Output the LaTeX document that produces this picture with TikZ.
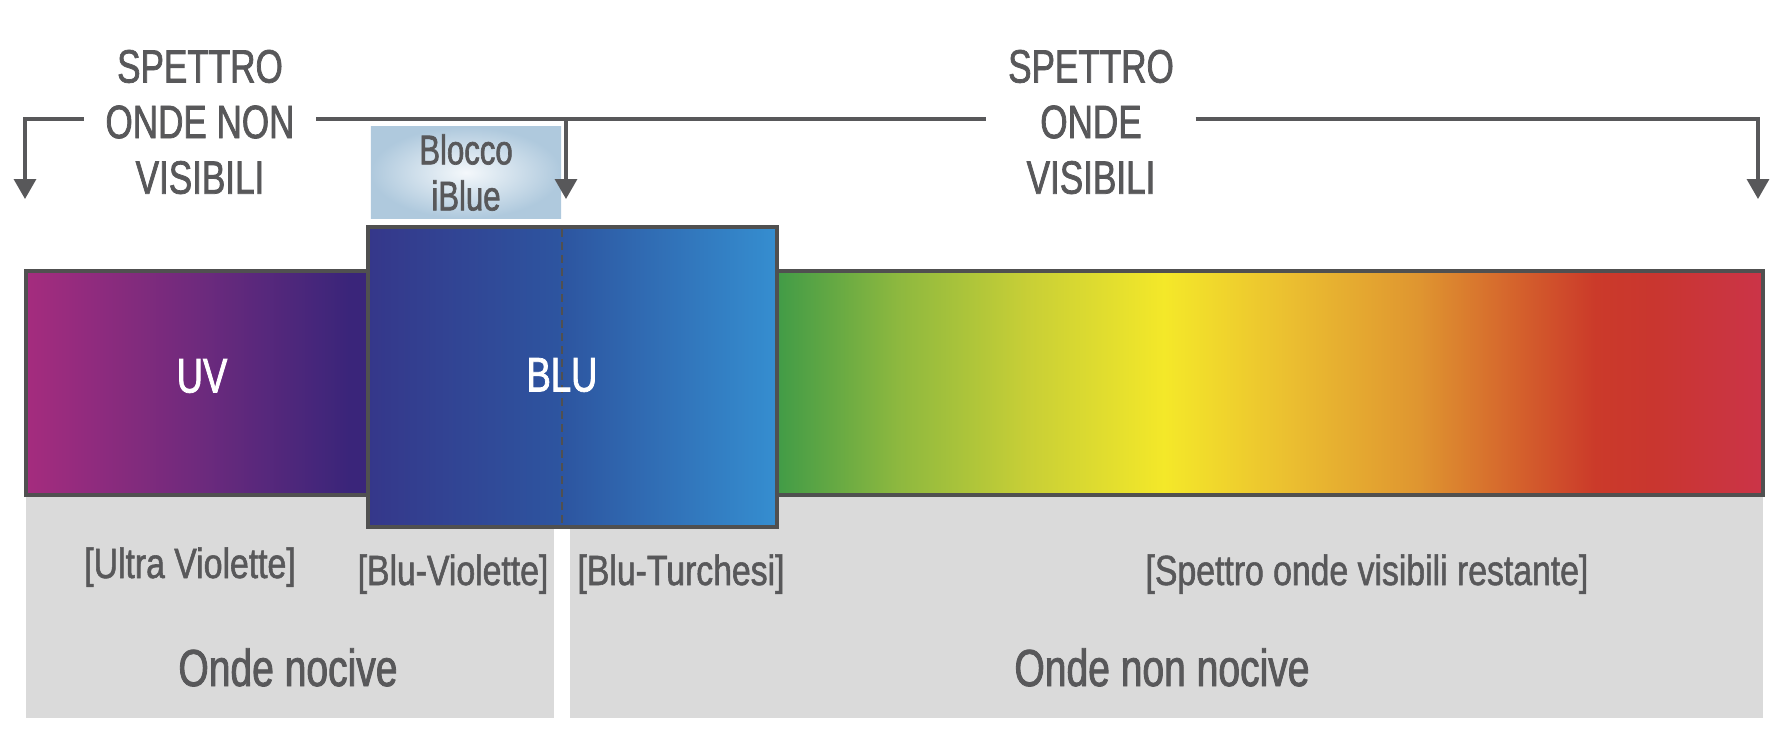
\documentclass[tikz,border=0pt]{standalone}
\usepackage{fontspec}
\setmainfont[FakeStretch=0.75,FakeBold=1.6]{Liberation Sans}
\newfontfamily\lblfont[FakeStretch=0.8,FakeBold=1.3]{Liberation Sans}
\usepackage{xcolor}
\usepackage{tikz}
\usetikzlibrary{arrows.meta}

\definecolor{ink}{HTML}{58585A}
\definecolor{frame}{HTML}{505050}
\definecolor{panel}{HTML}{DADADA}
\definecolor{ice}{HTML}{AFC9DD}
\definecolor{iceC}{HTML}{F4F8FB}
\definecolor{uvA}{HTML}{A52C7E}
\definecolor{uvB}{HTML}{6E2A7D}
\definecolor{uvC}{HTML}{3A257A}
\definecolor{bluA}{HTML}{35378A}
\definecolor{bluB}{HTML}{2D55A0}
\definecolor{bluC}{HTML}{358ED0}
\definecolor{vA}{HTML}{409B47}
\definecolor{vB}{HTML}{8DB83F}
\definecolor{vC}{HTML}{C8CF36}
\definecolor{vD}{HTML}{F4E829}
\definecolor{vE}{HTML}{EBBF30}
\definecolor{vF}{HTML}{DF9530}
\definecolor{vG}{HTML}{D4602C}
\definecolor{vH}{HTML}{CB3A2A}
\definecolor{vJ}{HTML}{C9362F}
\definecolor{vI}{HTML}{CB3448}

\pgfdeclarehorizontalshading{uvshade}{100bp}{color(0bp)=(uvA); color(25bp)=(uvA); color(50bp)=(uvB); color(72bp)=(uvC); color(100bp)=(uvC)}
\pgfdeclarehorizontalshading{blushade}{100bp}{color(0bp)=(bluA); color(25bp)=(bluA); color(48.7bp)=(bluB); color(75bp)=(bluC); color(100bp)=(bluC)}
\pgfdeclarehorizontalshading{visshade}{100bp}{color(0bp)=(vA); color(25bp)=(vA); color(31.2bp)=(vB); color(37.8bp)=(vC); color(44.7bp)=(vD); color(51bp)=(vE); color(57.6bp)=(vF); color(62.7bp)=(vG); color(66.5bp)=(vH); color(69.4bp)=(vJ); color(75bp)=(vI); color(100bp)=(vI)}

\begin{document}
\begin{tikzpicture}[x=0.01cm,y=-0.01cm,
    title/.style={align=center,text=ink,inner xsep=0.21cm,font=\fontsize{13.3}{15.8}\selectfont},
    band/.style={text=white,font=\fontsize{13.8}{15}\selectfont},
    tag/.style={anchor=base,text=ink,font=\lblfont\fontsize{12}{14}\selectfont},
    kind/.style={anchor=base,text=ink,font=\fontsize{14.8}{17}\selectfont},
    rim/.style={draw=frame,line width=0.04cm},
    leader/.style={draw=ink,line width=0.033cm},
    pointer/.style={leader,-{Triangle[length=0.2cm,width=0.22cm]}}]
  \useasboundingbox (0,0) rectangle (1787,753);
  % grey panels under the bar
  \fill[panel] (26,495) rectangle (554,718);
  \fill[panel] (570,495) rectangle (1763,718);
  % the bar
  \shade[shading=uvshade] (26,271) rectangle (370,495);
  \shade[shading=visshade] (775,271) rectangle (1763,495);
  \draw[rim] (26,271) rectangle (1763,495);
  \shade[shading=blushade] (368,227) rectangle (777,527);
  \draw[rim] (368,227) rectangle (777,527);
  \draw[draw=frame,line width=0.028cm,dash pattern=on 0.08cm off 0.05cm] (562,229) -- (562,525);
  % iBlue block
  \node[inner color=iceC,outer color=ice,minimum width=1.9cm,minimum height=0.91cm,inner sep=0pt,
    align=center,text=ink,font=\fontsize{11.8}{13.1}\selectfont] (iblue) at (466,172.5) {Blocco\\iBlue};
  % titles and arrows
  \node[title] (ltitle) at (200,122) {SPETTRO\\ONDE NON\\VISIBILI};
  \node[title] (rtitle) at (1091,122) {SPETTRO\\ONDE\\VISIBILI};
  \coordinate (lc) at (25,119);
  \coordinate (lt) at (25,199);
  \coordinate (mc) at (566,119);
  \coordinate (mt) at (566,199);
  \coordinate (rc) at (1758,119);
  \coordinate (rt) at (1758,199);
  \draw[pointer] (ltitle.west |- lc) -- (lc) -- (lt);
  \draw[leader] (ltitle.east |- lc) -- (rtitle.west |- lc);
  \draw[pointer] (rtitle.east |- rc) -- (rc) -- (rt);
  \draw[pointer] (mc) -- (mt);
  % band names
  \node[band] (uv) at (202,376) {UV};
  \node[band] (blu) at (562,375) {BLU};
  % labels
  \node[tag] (ultra) at (190,578) {[Ultra Violette]};
  \node[tag] (bviol) at (453,585) {[Blu-Violette]};
  \node[tag] (bturc) at (681,585) {[Blu-Turchesi]};
  \node[tag] (rest) at (1367,585) {[Spettro onde visibili restante]};
  \node[kind] (harm) at (288,686) {Onde nocive};
  \node[kind] (safe) at (1162,686) {Onde non nocive};
\end{tikzpicture}
\end{document}
